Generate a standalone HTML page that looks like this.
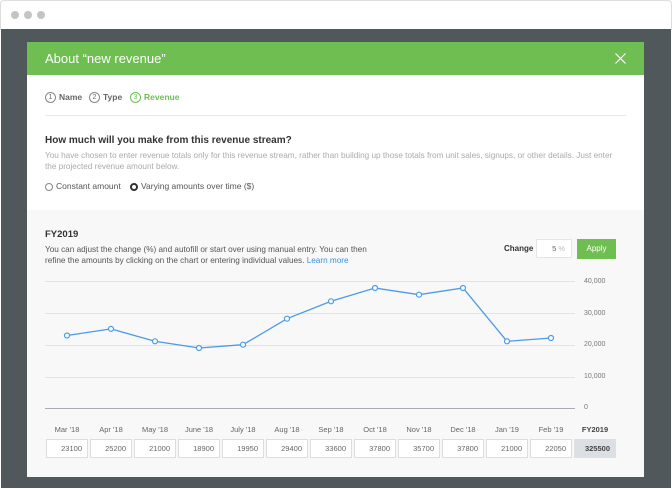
<!DOCTYPE html>
<html><head><style>
*{box-sizing:border-box;margin:0;padding:0}
body{width:672px;height:489px;background:#fff;font-family:"Liberation Sans",sans-serif;position:relative;overflow:hidden;color:#333}
.abs{position:absolute}
.top{left:0;top:0;width:672px;height:30px;background:#fff;border:1px solid #ddd;border-radius:4px 4px 0 0}
.dot{width:8px;height:8px;border-radius:50%;background:#c4c4c4;top:11px}
.dark{left:1px;top:29px;width:670px;height:459px;background:#50585b}
.modal{left:27px;top:42px;width:617px;height:435px;background:#fff}
.head{left:27px;top:42px;width:617px;height:33px;background:#6ebe51;color:#fff;font-size:13px;line-height:33px;padding-left:18px}
.gray{left:27px;top:210px;width:617px;height:267px;background:#f8f8f8}
.step{font-size:8.5px;color:#666;top:92px;font-weight:bold}
.circ{display:inline-block;width:11px;height:11px;border:1px solid #888;border-radius:50%;font-size:7px;font-weight:normal;text-align:center;line-height:9px;margin-right:3px;vertical-align:middle}
.lbl{font-size:7.5px;color:#666;top:425px;width:44px;text-align:center}
.inp{top:439px;width:42px;height:19px;background:#fff;border:1px solid #ddd;font-size:7.5px;color:#666;text-align:right;padding-right:5px;line-height:18px}
.yl{font-size:7px;color:#777;left:584px}
</style></head><body>
<div class="abs top"></div>
<div class="abs dot" style="left:11px"></div><div class="abs dot" style="left:24px"></div><div class="abs dot" style="left:37px"></div>
<div class="abs dark"></div>
<div class="abs modal"></div>
<div class="abs head">About “new revenue”</div>
<svg class="abs" style="left:615px;top:53px" width="11" height="11"><path d="M0.5 0.5L10.5 10.5M10.5 0.5L0.5 10.5" stroke="#fff" stroke-width="1.2"/></svg>
<div class="abs step" style="left:45px"><span class="circ">1</span>Name</div>
<div class="abs step" style="left:89px"><span class="circ">2</span>Type</div>
<div class="abs step" style="left:130px;color:#6ebe51"><span class="circ" style="border-color:#6ebe51">3</span>Revenue</div>
<div class="abs" style="left:45px;top:115px;width:581px;height:1px;background:#e8e8e8"></div>
<div class="abs" style="left:45px;top:135px;font-size:10px;font-weight:bold;color:#333">How much will you make from this revenue stream?</div>
<div class="abs" style="left:45px;top:150px;width:580px;font-size:8.2px;line-height:11px;color:#aaa">You have chosen to enter revenue totals only for this revenue stream, rather than building up those totals from unit sales, signups, or other details. Just enter the projected revenue amount below.</div>
<div class="abs" style="left:45px;top:181px;font-size:8.5px;color:#555"><span class="circ" style="width:8px;height:8px"></span>Constant amount</div>
<div class="abs" style="left:130px;top:181px;font-size:8.5px;color:#555"><span class="circ" style="width:8px;height:8px;border:2.5px solid #333"></span>Varying amounts over time ($)</div>
<div class="abs gray"></div>
<div class="abs" style="left:45px;top:229px;font-size:9.5px;font-weight:bold">FY2019</div>
<div class="abs" style="left:45px;top:244px;width:330px;font-size:8.2px;line-height:11px;color:#555">You can adjust the change (%) and autofill or start over using manual entry. You can then refine the amounts by clicking on the chart or entering individual values. <span style="color:#3a8ee6">Learn more</span></div>
<div class="abs" style="left:504px;top:244px;font-size:8px;font-weight:bold">Change</div>
<div class="abs" style="left:536px;top:239px;width:36px;height:19px;background:#fff;border:1px solid #e5e5e5;font-size:7.5px;color:#666;text-align:right;padding-right:6px;line-height:18px">5 <span style="color:#bbb">%</span></div>
<div class="abs" style="left:577px;top:239px;width:39px;height:20px;background:#6ebe51;color:#fff;font-size:8px;text-align:center;line-height:20px">Apply</div>
<svg class="abs" style="left:0;top:0" width="672" height="489">
<g stroke="#e3e3e3" stroke-width="1">
<line x1="45" x2="575" y1="281.5" y2="281.5"/><line x1="45" x2="575" y1="313.5" y2="313.5"/><line x1="45" x2="575" y1="345.5" y2="345.5"/><line x1="45" x2="575" y1="377.5" y2="377.5"/></g>
<line x1="45" x2="575" y1="408.5" y2="408.5" stroke="#aab" />
<polyline fill="none" stroke="#4a9be8" stroke-width="1.3" points="67,335.5 111,328.9 155,341.3 199,348 243,344.7 287,318.7 331,301.3 375,288 419,294.7 463,288 507,341.3 551,338"/>
<g fill="#fff" stroke="#4a9be8" stroke-width="1.2">
<circle cx="67" cy="335.5" r="2.5"/><circle cx="111" cy="328.9" r="2.5"/><circle cx="155" cy="341.3" r="2.5"/><circle cx="199" cy="348" r="2.5"/><circle cx="243" cy="344.7" r="2.5"/><circle cx="287" cy="318.7" r="2.5"/><circle cx="331" cy="301.3" r="2.5"/><circle cx="375" cy="288" r="2.5"/><circle cx="419" cy="294.7" r="2.5"/><circle cx="463" cy="288" r="2.5"/><circle cx="507" cy="341.3" r="2.5"/><circle cx="551" cy="338" r="2.5"/></g>
</svg>
<div class="abs yl" style="top:278px">40,000</div>
<div class="abs yl" style="top:310px">30,000</div>
<div class="abs yl" style="top:341px">20,000</div>
<div class="abs yl" style="top:373px">10,000</div>
<div class="abs yl" style="top:404px">0</div>
<div class="abs lbl" style="left:45px">Mar '18</div><div class="abs lbl" style="left:89px">Apr '18</div><div class="abs lbl" style="left:133px">May '18</div><div class="abs lbl" style="left:177px">June '18</div><div class="abs lbl" style="left:221px">July '18</div><div class="abs lbl" style="left:265px">Aug '18</div><div class="abs lbl" style="left:309px">Sep '18</div><div class="abs lbl" style="left:353px">Oct '18</div><div class="abs lbl" style="left:397px">Nov '18</div><div class="abs lbl" style="left:441px">Dec '18</div><div class="abs lbl" style="left:485px">Jan '19</div><div class="abs lbl" style="left:529px">Feb '19</div><div class="abs lbl" style="left:573px;font-weight:bold;color:#444">FY2019</div>
<div class="abs inp" style="left:46px">23100</div><div class="abs inp" style="left:90px">25200</div><div class="abs inp" style="left:134px">21000</div><div class="abs inp" style="left:178px">18900</div><div class="abs inp" style="left:222px">19950</div><div class="abs inp" style="left:266px">29400</div><div class="abs inp" style="left:310px">33600</div><div class="abs inp" style="left:354px">37800</div><div class="abs inp" style="left:398px">35700</div><div class="abs inp" style="left:442px">37800</div><div class="abs inp" style="left:486px">21000</div><div class="abs inp" style="left:530px">22050</div>
<div class="abs inp" style="left:574px;background:#dcdfe3;border-color:#dcdfe3;font-weight:bold;color:#444">325500</div>
</body></html>
